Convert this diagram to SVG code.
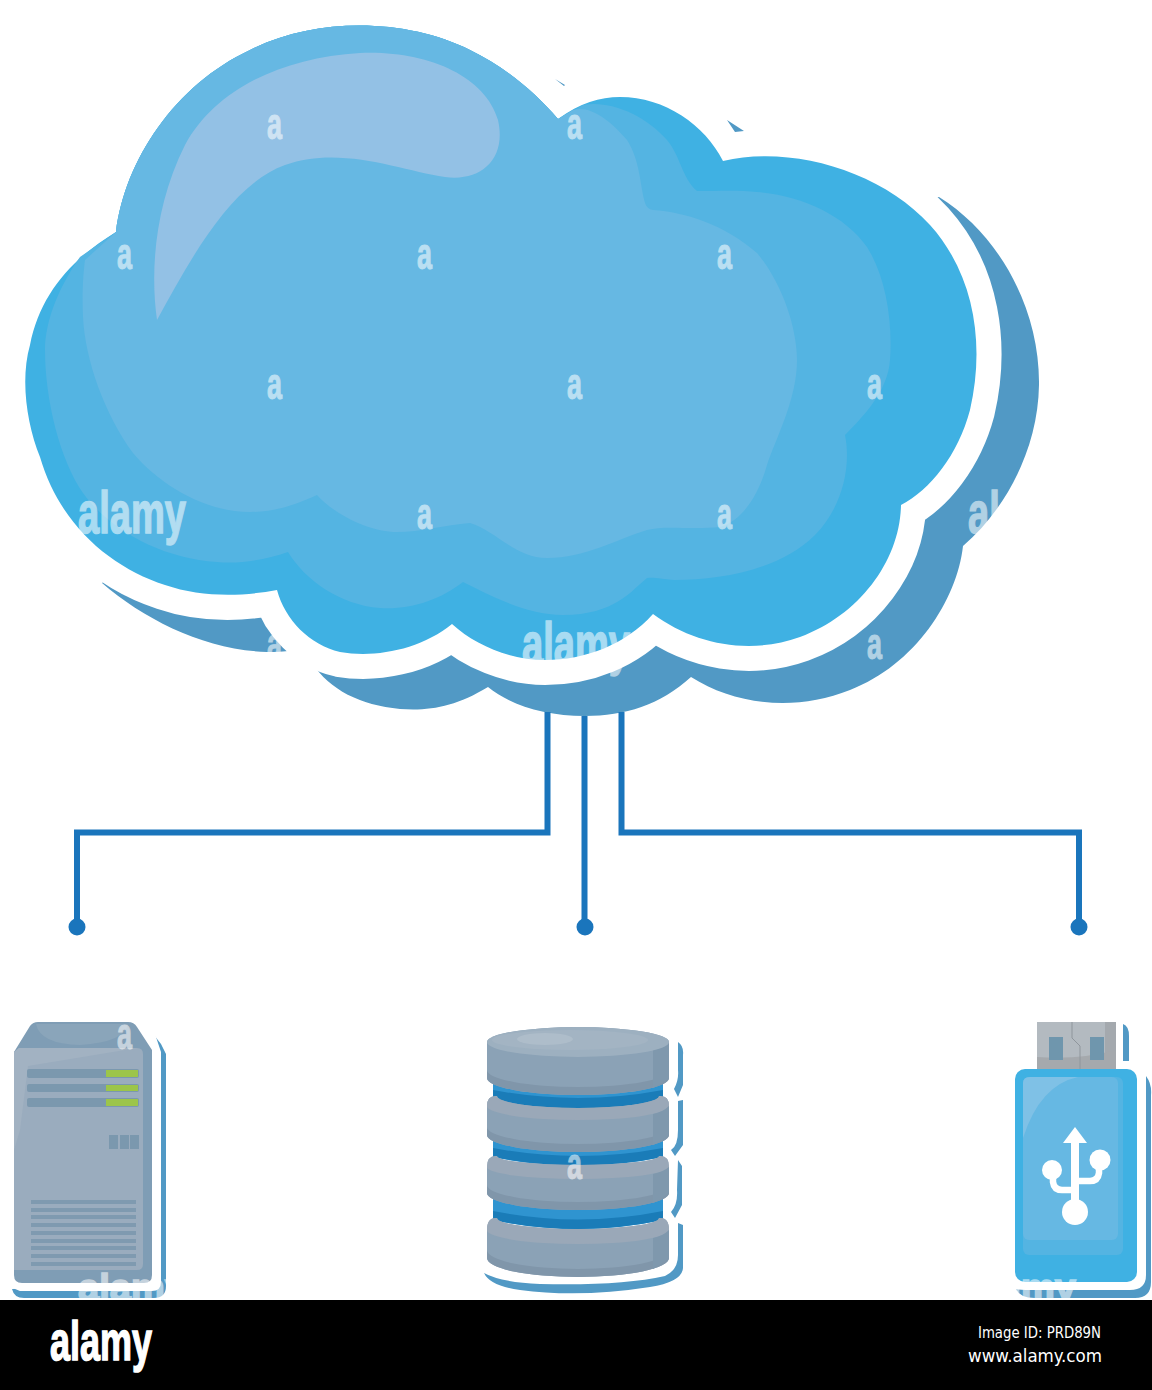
<svg xmlns="http://www.w3.org/2000/svg" width="1152" height="1390" viewBox="0 0 1152 1390">
<style>
.sh{fill:#5199c5}.dk{fill:#3fb1e3}.mid{fill:#54b4e2}.lt{fill:#66b8e3}
.c{fill:none;stroke:#1a75bc;stroke-width:6}.d{fill:#1a75bc}
.wm{fill:#fff;stroke:#fff;opacity:.55;font-family:"Liberation Sans",Arial,sans-serif;font-weight:700}
.a{font-size:44px;text-anchor:middle;stroke-width:1}.al{font-size:60px;stroke-width:1.5}.al2{font-size:37px;stroke-width:1.5}
.bar{fill:#7b98ae}.gr{fill:#9cc54a}.v{fill:#7f9ab0}
.dside{fill:#8ba2b6}.dtop{fill:#9db0c0}.dshade{fill:#7f98ad}.lip{fill:#9aa8b8}.low{fill:#8096aa}.blue{fill:#2f94d0}.blue2{fill:#1a7cb8}
.f{fill:#fff;font-family:"DejaVu Sans",sans-serif;font-stretch:condensed}
</style>
<rect width="1152" height="1390" fill="#fff"/>
<g id="cloud">
<path class="sh" d="M939 197C1000 235 1040 310 1039 385C1038 450 1005 510 963 546C957 600 915 665 850 690C795 712 735 705 691 677C660 705 625 716 585 716C545 716 510 705 488 687C455 707 430 711 400 709C360 705 330 690 312 663L292 650C284 652 275 652 267 652C205 650 145 620 102 583L400 300Z"/>
<path fill="#fff" stroke="#fff" stroke-width="50" stroke-linejoin="round" d="M558 119C580 103 600 97 620 97C665 97 705 125 723 161C790 145 880 170 930 225C975 275 985 345 970 410C958 455 930 490 901 505C900 560 860 615 800 637C750 655 695 645 653 614C625 645 585 660 545 660C510 660 475 645 452 624C420 650 375 658 340 652C310 645 285 620 277 590C240 597 200 597 165 585C110 567 60 525 40 457C27 425 20 380 30 345C40 295 70 260 116 232C125 160 175 85 250 50C320 15 410 20 470 50C505 67 535 92 558 119Z"/>
<path fill="#5199c5" d="M555 79L565 85L564 86ZM727 120L744 131L735 132Z"/>
<path class="dk" d="M558 119C580 103 600 97 620 97C665 97 705 125 723 161C790 145 880 170 930 225C975 275 985 345 970 410C958 455 930 490 901 505C900 560 860 615 800 637C750 655 695 645 653 614C625 645 585 660 545 660C510 660 475 645 452 624C420 650 375 658 340 652C310 645 285 620 277 590C240 597 200 597 165 585C110 567 60 525 40 457C27 425 20 380 30 345C40 295 70 260 116 232C125 160 175 85 250 50C320 15 410 20 470 50C505 67 535 92 558 119Z"/>
<path class="mid" d="M558 119L583 105C610 100 645 115 667 140C680 155 682 178 697 191C720 191 740 190 757 192C800 195 845 215 867 247C885 275 893 320 890 360C888 390 865 415 845 435C852 470 840 510 815 535C780 570 720 580 675 580C660 579 655 577 647 578C632 590 615 615 563 615C525 615 490 595 463 582C440 600 410 610 380 608C340 605 305 580 288 552C265 560 240 564 217 562C160 558 110 530 83 493C60 460 45 400 45 350C45 320 60 285 80 257L116 232C125 160 175 85 250 50C320 15 410 20 470 50C505 67 535 92 558 119Z"/>
<path class="lt" d="M558 119L573 110C590 105 610 120 627 140C640 160 640 185 645 203Q647 209 653 210C685 212 725 225 757 253C780 280 797 325 797 360C797 400 775 440 767 465C760 490 745 520 720 527C690 530 665 525 647 530C615 540 585 558 547 558C515 558 495 530 470 523C445 525 420 532 397 532C370 532 335 515 317 495C295 505 275 512 250 512C205 512 160 485 133 453C105 415 85 360 83 317C82 295 83 275 85 260L116 232C125 160 175 85 250 50C320 15 410 20 470 50C505 67 535 92 558 119Z"/>
<path fill="#93c1e5" d="M157 320C150 270 155 205 185 145C215 90 280 58 360 53C425 50 485 75 498 120C507 160 480 182 445 177C400 170 340 145 285 165C230 185 190 260 157 320Z"/>
</g>
<g id="connectors">
<path class="c" d="M547.500 712V832.500H77V926"/>
<path class="c" d="M584.500 716V926"/>
<path class="c" d="M621.500 712V832.500H1079V926"/>
<circle class="d" cx="77" cy="927" r="8.500"/>
<circle class="d" cx="585" cy="927" r="8.500"/>
<circle class="d" cx="1079" cy="927" r="8.500"/>
</g>
<g id="server">
<path class="sh" d="M150 1030L161 1044L166 1054V1286Q166 1298 154 1298H24Q14 1298 12 1289L160 1285Z"/>
<path fill="#fff" d="M153 1028L161 1052V1282Q161 1291 152 1291H20Q9 1288 10 1280L10 1100Z"/>
<path fill="#7f9db5" d="M30 1026Q33 1022 38 1022H128Q134 1022 137 1027L152 1050V1275Q152 1283 144 1283H22Q14 1283 14 1275V1052Z"/>
<path fill="#8aa5ba" d="M36 1024H128Q125 1042 80 1045Q40 1044 36 1024Z"/>
<path fill="#9aacbe" d="M19 1048H137Q143 1048 143 1054V1264Q143 1270 137 1270H14V1052Z"/>
<path fill="#a2b2c2" d="M19 1048H137L28 1066L20 1130L14 1150V1052Z"/>
<rect class="bar" x="27" y="1069" width="112" height="9" rx="2"/>
<rect class="bar" x="27" y="1084" width="112" height="8" rx="2"/>
<rect class="bar" x="27" y="1098" width="112" height="9" rx="2"/>
<rect class="gr" x="106" y="1070" width="32" height="7"/>
<rect class="gr" x="106" y="1085" width="32" height="6"/>
<rect class="gr" x="106" y="1099" width="32" height="7"/>
<rect class="bar" x="109" y="1135" width="9" height="14"/>
<rect class="bar" x="120" y="1135" width="9" height="14"/>
<rect class="bar" x="130" y="1135" width="9" height="14"/>
<rect class="v" x="31" y="1200" width="105" height="4"/>
<rect class="v" x="31" y="1208" width="105" height="4"/>
<rect class="v" x="31" y="1215" width="105" height="4"/>
<rect class="v" x="31" y="1223" width="105" height="4"/>
<rect class="v" x="31" y="1231" width="105" height="4"/>
<rect class="v" x="31" y="1239" width="105" height="4"/>
<rect class="v" x="31" y="1246" width="105" height="4"/>
<rect class="v" x="31" y="1254" width="105" height="4"/>
<rect class="v" x="31" y="1262" width="105" height="4"/>
</g>
<g id="database">
<path class="sh" d="M678 1042Q684 1046 683 1055V1085L678 1097L674 1089Q679 1080 678 1070ZM678 1101L683 1100V1145L675 1156L671 1150Q678 1146 678 1130ZM678 1160L682 1166V1205L675 1218L671 1212Q678 1204 677 1190ZM678 1223L683 1225V1268Q682 1282 650 1287Q580 1298 520 1290Q490 1286 484 1273Q500 1282 540 1284Q620 1286 665 1276Q678 1270 678 1255Z"/>
<path class="blue" d="M493 1080H663V1098Q578 1118 493 1098Z"/>
<path class="blue" d="M493 1137H663V1157Q578 1175 493 1157Z"/>
<path class="blue" d="M493 1195H663V1220Q578 1238 493 1220Z"/>
<path class="blue2" d="M493 1090Q578 1106 663 1090V1100Q578 1118 493 1100ZM493 1148Q578 1164 663 1148V1157Q578 1174 493 1157ZM493 1211Q578 1228 663 1211V1220Q578 1238 493 1220Z"/>
<g id="disc1">
<path class="dside" d="M487 1042A91 15 0 0 1 669 1042V1078A91 17 0 0 1 487 1078Z"/>
<path class="low" d="M487 1070A91 17 0 0 0 669 1070V1078A91 17 0 0 1 487 1078Z"/>
<path class="dshade" d="M653 1050Q663 1048 669 1042V1078Q662 1084 653 1088Z"/>
<ellipse class="dtop" cx="578" cy="1042" rx="91" ry="15"/>
<ellipse fill="#a3b4c3" cx="570" cy="1040" rx="78" ry="10"/>
<ellipse fill="#aebdca" cx="545" cy="1039" rx="28" ry="6"/>
</g>
<g id="disc2">
<path class="dside" d="M487 1106Q487 1095 497 1096A81 12 0 0 0 659 1096Q669 1095 669 1106V1135A91 17 0 0 1 487 1135Z"/>
<path class="low" d="M487 1127A91 17 0 0 0 669 1127V1135A91 17 0 0 1 487 1135Z"/>
<path class="lip" d="M487 1106Q487 1095 497 1096A81 12 0 0 0 659 1096Q669 1095 669 1106A91 14 0 0 1 487 1106Z"/>
<path class="dshade" d="M653 1114Q663 1112 669 1106V1135Q662 1141 653 1145Z"/>
</g>
<g id="disc3">
<path class="dside" d="M487 1167Q487 1155 497 1156A81 9 0 0 0 659 1156Q669 1155 669 1167V1193A91 17 0 0 1 487 1193Z"/>
<path class="low" d="M487 1185A91 17 0 0 0 669 1185V1193A91 17 0 0 1 487 1193Z"/>
<path class="lip" d="M487 1167Q487 1155 497 1156A81 9 0 0 0 659 1156Q669 1155 669 1167A91 12 0 0 1 487 1167Z"/>
<path class="dshade" d="M653 1174Q663 1172 669 1167V1193Q662 1199 653 1203Z"/>
</g>
<g id="disc4">
<path class="dside" d="M487 1230Q487 1217 497 1218A81 11 0 0 0 659 1218Q669 1217 669 1230V1258A91 19 0 0 1 487 1258Z"/>
<path class="low" d="M487 1250A91 19 0 0 0 669 1250V1258A91 19 0 0 1 487 1258Z"/>
<path class="lip" d="M487 1230Q487 1217 497 1218A81 11 0 0 0 659 1218Q669 1217 669 1230A91 14 0 0 1 487 1230Z"/>
<path class="dshade" d="M653 1238Q663 1236 669 1230V1258Q662 1264 653 1269Z"/>
</g>
</g>
<g id="usb">
<path class="sh" d="M1123 1024Q1129 1026 1129 1036V1061H1123ZM1146 1076Q1152 1084 1151 1095V1282Q1151 1298 1135 1298H1035Q1020 1298 1016 1289Q1020 1290 1030 1290H1130Q1146 1290 1146 1275Z"/>
<rect x="1037" y="1022" width="79" height="48" fill="#b3bac0"/>
<rect x="1105" y="1022" width="11" height="40" fill="#a4a9ae"/>
<path d="M1037 1057Q1080 1060 1116 1050V1070H1037Z" fill="#a5a9ad"/>
<path d="M1072 1022V1038L1080 1046V1070" fill="none" stroke="#8f969c" stroke-width="1"/>
<rect x="1049" y="1037" width="14" height="23" fill="#6f96ad"/>
<rect x="1090" y="1037" width="14" height="23" fill="#6f96ad"/>
<rect class="dk" x="1015" y="1069" width="122" height="213" rx="10"/>
<rect class="mid" x="1023" y="1077" width="100" height="178" rx="6"/>
<rect class="lt" x="1023" y="1077" width="95" height="163" rx="6"/>
<path fill="#7fc1e6" d="M1023 1138V1083Q1023 1077 1030 1077H1078Q1040 1085 1023 1138Z"/>
<g fill="#fff">
<path d="M1075 1127L1087 1143H1063Z"/>
<rect x="1071" y="1140" width="8" height="65"/>
<circle cx="1075" cy="1212" r="13"/>
<circle cx="1052" cy="1170" r="10"/>
<circle cx="1100" cy="1160" r="10.500"/>
</g>
<path d="M1053 1170V1182Q1054 1190 1062 1190H1075M1099 1162V1173Q1098 1181 1090 1181H1075" fill="none" stroke="#fff" stroke-width="6.500"/>
</g>
<g id="watermark">
<text class="wm a" x="274.500" y="138.500" textLength="15" lengthAdjust="spacingAndGlyphs">a</text>
<text class="wm a" x="574.500" y="138.500" textLength="15" lengthAdjust="spacingAndGlyphs">a</text>
<text class="wm a" x="124.500" y="268.500" textLength="15" lengthAdjust="spacingAndGlyphs">a</text>
<text class="wm a" x="424.500" y="268.500" textLength="15" lengthAdjust="spacingAndGlyphs">a</text>
<text class="wm a" x="724.500" y="268.500" textLength="15" lengthAdjust="spacingAndGlyphs">a</text>
<text class="wm a" x="274.500" y="398.500" textLength="15" lengthAdjust="spacingAndGlyphs">a</text>
<text class="wm a" x="574.500" y="398.500" textLength="15" lengthAdjust="spacingAndGlyphs">a</text>
<text class="wm a" x="874.500" y="398.500" textLength="15" lengthAdjust="spacingAndGlyphs">a</text>
<text class="wm a" x="424.500" y="528.500" textLength="15" lengthAdjust="spacingAndGlyphs">a</text>
<text class="wm a" x="724.500" y="528.500" textLength="15" lengthAdjust="spacingAndGlyphs">a</text>
<text class="wm a" x="274.500" y="658.500" textLength="15" lengthAdjust="spacingAndGlyphs">a</text>
<text class="wm a" x="874.500" y="658.500" textLength="15" lengthAdjust="spacingAndGlyphs">a</text>
<text class="wm a" x="124.500" y="1048.500" textLength="15" lengthAdjust="spacingAndGlyphs">a</text>
<text class="wm a" x="574.500" y="1178.500" textLength="15" lengthAdjust="spacingAndGlyphs">a</text>
<text class="wm al" x="78" y="533" textLength="108" lengthAdjust="spacingAndGlyphs">alamy</text>
<text class="wm al" x="522" y="664" textLength="108" lengthAdjust="spacingAndGlyphs">alamy</text>
<text class="wm al" x="968" y="533" textLength="108" lengthAdjust="spacingAndGlyphs">alamy</text>
<text class="wm al2" x="78" y="1300" textLength="108" lengthAdjust="spacingAndGlyphs">alamy</text>
<text class="wm al2" x="968" y="1300" textLength="108" lengthAdjust="spacingAndGlyphs">alamy</text>
</g>
<g id="footer">
<rect y="1300" width="1152" height="90" fill="#000"/>
<text x="50" y="1360" font-family="Liberation Sans, sans-serif" font-weight="700" font-size="55" fill="#fff" stroke="#fff" stroke-width="1.500" textLength="102" lengthAdjust="spacingAndGlyphs">alamy</text>
<text class="f" x="978" y="1338" font-size="16" textLength="123" lengthAdjust="spacingAndGlyphs">Image ID: PRD89N</text>
<text class="f" x="968" y="1362" font-size="18" textLength="134" lengthAdjust="spacingAndGlyphs">www.alamy.com</text>
</g>
</svg>
